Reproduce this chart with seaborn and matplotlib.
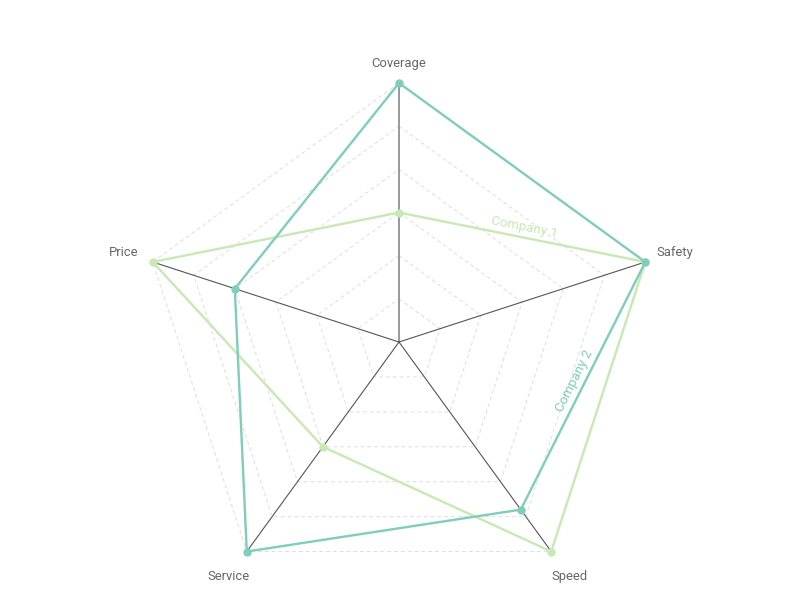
import numpy as np
import pandas as pd
import matplotlib
matplotlib.use('Agg')
import matplotlib.pyplot as plt
import seaborn as sns

# Data
categories = ['Coverage', 'Safety', 'Speed', 'Service', 'Price']
company1 = [15, 30, 30, 15, 30]
company2 = [30, 30, 24, 30, 20]
series_names = ['Company 1', 'Company 2']
grid_levels = [5, 10, 15, 20, 25, 30]
r_max = 30

colors = {'Company 1': '#c7e9b4', 'Company 2': '#7fcdbb'}
# which edge (start index) each series label sits on
label_edge = {'Company 1': 0, 'Company 2': 1}

sns.set_style('white')
plt.rcParams['font.family'] = ['Roboto', 'DejaVu Sans']

n = len(categories)
thetas = np.linspace(0, 2 * np.pi, n, endpoint=False)
thetas_closed = np.append(thetas, thetas[0] + 2 * np.pi)

rows = []
for name, vals in zip(series_names, [company1, company2]):
    for t, v in zip(thetas_closed, vals + vals[:1]):
        rows.append({'series': name, 'theta': t, 'value': v})
df = pd.DataFrame(rows)

fig = plt.figure(figsize=(8, 6), dpi=100)
ax = fig.add_axes([0.175, -0.00167, 0.6475, 0.8633], projection='polar')
ax.set_theta_offset(np.pi / 2)
ax.set_theta_direction(-1)
ax.grid(False)
ax.spines['polar'].set_visible(False)

# dashed pentagon grid
for lv in grid_levels:
    ax.plot(thetas_closed, [lv] * len(thetas_closed), color='#dedede',
            lw=0.7, linestyle=(0, (4, 3)), zorder=1)

# spokes
for i, t in enumerate(thetas):
    if i == 0:
        ax.plot([t, t], [0, r_max], color='#999999', lw=1.4, zorder=2)
    else:
        ax.plot([t, t], [0, r_max], color='#555555', lw=0.8, zorder=2)

# series
for k, name in enumerate(series_names):
    sub = df[df['series'] == name]
    sns.lineplot(data=sub, x='theta', y='value', sort=False, estimator=None,
                 color=colors[name], lw=1.7, ax=ax, zorder=3 + k)
    ax.lines[-1].set_clip_on(False)
    sns.scatterplot(data=sub.iloc[:-1], x='theta', y='value', color=colors[name],
                    s=36, linewidth=0, ax=ax, zorder=3 + k, clip_on=False)

ax.set_ylim(0, r_max)
ax.set_xticks([])
ax.set_yticks([])
ax.set_xlabel('')
ax.set_ylabel('')

# category labels
for i, (t, cat) in enumerate(zip(thetas, categories)):
    r_lab = r_max * (1.075 if i == 0 else 1.12)
    ax.text(t, r_lab, cat, ha='center', va='center', fontsize=9.4,
            color='#666666')

# series labels along one edge of each polygon
fig.canvas.draw()
for name, vals in zip(series_names, [company1, company2]):
    i = label_edge[name]
    p0 = ax.transData.transform((thetas[i], vals[i]))
    p1 = ax.transData.transform((thetas[(i + 1) % n], vals[(i + 1) % n]))
    mid = (p0 + p1) / 2
    d = p1 - p0
    ang = np.degrees(np.arctan2(d[1], d[0]))
    if ang > 90:
        ang -= 180
    elif ang <= -90:
        ang += 180
    nrm = np.array([-np.sin(np.radians(ang)), np.cos(np.radians(ang))])
    pos = mid + nrm * 10
    fig.text(pos[0] / fig.bbox.width, pos[1] / fig.bbox.height, name,
             rotation=ang, rotation_mode='anchor', ha='center', va='center',
             fontsize=9.6, color=colors[name])

fig.savefig('out.png', dpi=100, facecolor='white')
